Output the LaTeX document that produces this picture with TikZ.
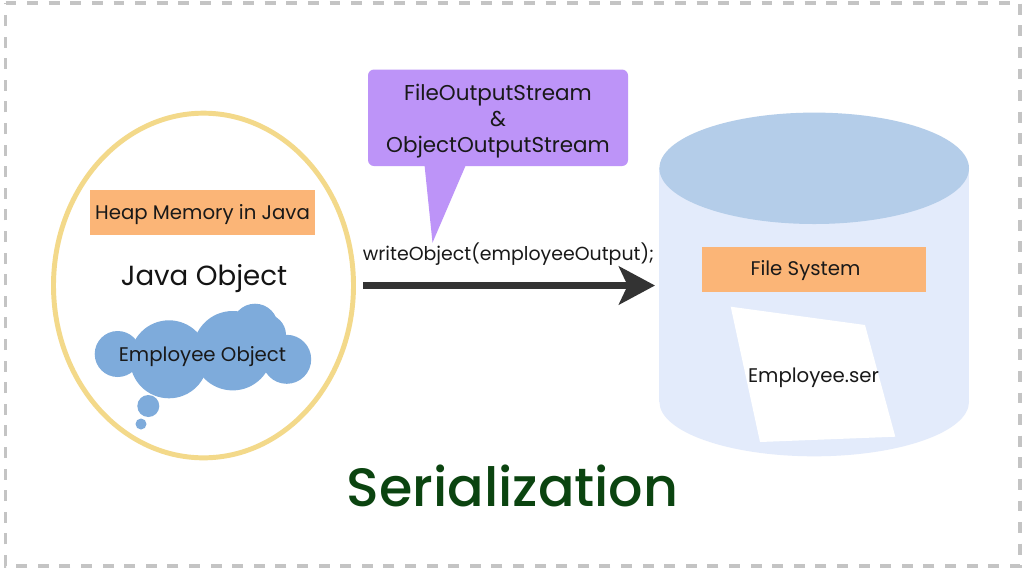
\documentclass[tikz,border=0pt]{standalone}
\usepackage{fontspec}
\setmainfont{Poppins}
\newfontfamily\titlefont{Poppins Medium}
\usetikzlibrary{arrows.meta,shapes.geometric}
\definecolor{borderc}{HTML}{C4C4C4}
\definecolor{ringc}{HTML}{F3D98A}
\definecolor{orangec}{HTML}{FBB577}
\definecolor{cloudc}{HTML}{7EABDB}
\definecolor{purplec}{HTML}{BD94F8}
\definecolor{cylbody}{HTML}{E3EBFB}
\definecolor{cyltop}{HTML}{B4CDE9}
\definecolor{arrowc}{HTML}{333333}
\definecolor{titlec}{HTML}{0B4410}
\newcommand{\fs}[1]{\fontsize{#1}{#1}\selectfont}
\tikzset{
  x=0.75pt,y=-0.75pt,
  label text/.style={inner sep=0pt,anchor=base,text=black!90,font=\fs{14.8}},
  callout text/.style={inner sep=0pt,anchor=base,text=black!90,font=\fs{16.1}},
  orange box/.style={fill=orangec,draw=none,minimum width=168.5pt,minimum height=33.75pt,inner sep=0pt},
  cloud part/.style={fill=cloudc,draw=none},
  flow arrow/.style={draw=arrowc,line width=5.25pt,-{Stealth[length=27pt,width=28.5pt,inset=6.5pt,fill=arrowc]}},
}
\begin{document}
\begin{tikzpicture}
\useasboundingbox (0,0) rectangle (1024,569);
\fill[white] (0,0) rectangle (1024,569);
% frame
\draw[borderc,line width=2.6pt,dash pattern=on 8.2pt off 8pt] (5.5,3) -- (1020,3) -- (1020,566) -- (5.5,566) -- cycle;
% object ellipse
\node[draw=ringc,line width=3.7pt,fill=white,ellipse,minimum width=225pt,minimum height=258.5pt,inner sep=0pt] (objring) at (203.5,285.5) {};
\node[orange box] (heap) at (202.5,212.5) {};
\node[label text] (heaptext) at (202.5,219) {Heap Memory in Java};
\node[inner sep=0pt,anchor=base,font=\fs{20.75},text=black!92] (javaobj) at (204,285) {Java Object};
% cloud
\fill[cloud part] (117.7,354) circle[radius=23];
\fill[cloud part] (169,359.3) circle[radius=39];
\fill[cloud part] (232.7,350.7) circle[radius=39.7];
\fill[cloud part] (255,326.7) circle[radius=23];
\fill[cloud part] (265,335) circle[radius=21];
\fill[cloud part] (286.7,359.3) circle[radius=24.5];
\fill[cloud part] (148.3,406) circle[radius=11];
\fill[cloud part] (141,424) circle[radius=5.5];
\node[label text] (emp) at (202.5,361) {Employee Object};
% callout
\fill[purplec,rounded corners=4.5pt] (368,69.5) rectangle (628,166);
\fill[purplec] (424,160) -- (432.5,242.7) -- (468,160) -- cycle;
\node[callout text] (fos) at (498,100) {FileOutputStream};
\node[callout text] (amp) at (498,126) {\&};
\node[callout text] (oos) at (498,152) {ObjectOutputStream};
\node[inner sep=0pt,anchor=base,font=\fs{14.2},text=black!90] (write) at (508.5,260) {writeObject(employeeOutput);};
% cylinder
\fill[cylbody] (659.3,168.3) rectangle (969,401.7);
\fill[cylbody] (814.2,401.7) ellipse[x radius=154.8,y radius=54.6];
\fill[cyltop] (814.2,168.3) ellipse[x radius=154.8,y radius=55.7];
\node[orange box] (fsbox) at (814,269.8) {};
\node[label text] (fstext) at (805.5,275) {File System};
\fill[white] (730.7,306.7) -- (865,325) -- (895.3,436.7) -- (760,442) -- cycle;
\node[label text] (ser) at (813.5,382) {Employee.ser};
% arrow
\coordinate (from) at (363,285.5);
\coordinate (to) at (655,285.5);
\draw[flow arrow] (from) -- (to);
% title
\node[inner sep=0pt,anchor=base,font=\titlefont\fs{40.5},text=titlec] (title) at (512.5,506) {Serialization};
\end{tikzpicture}
\end{document}
